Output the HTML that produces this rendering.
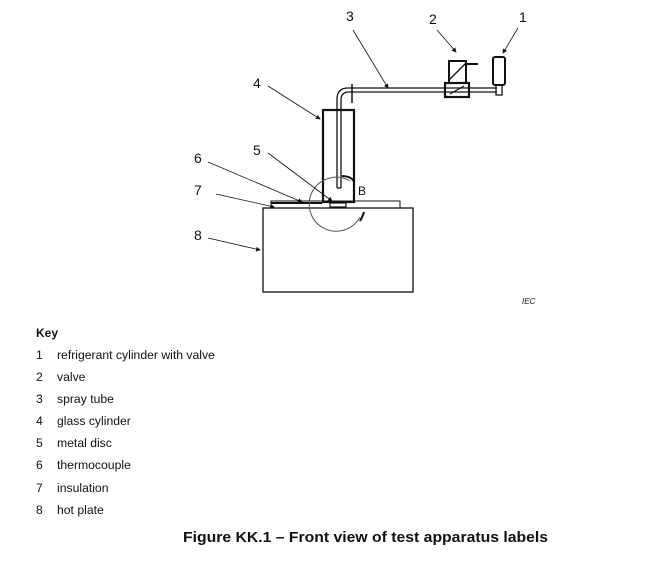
<!DOCTYPE html>
<html><head><meta charset="utf-8"><style>
html,body{margin:0;padding:0;background:#fff;}
svg{display:block;}
text{font-family:"Liberation Sans",Arial,sans-serif;fill:#111;}
</style></head><body>
<svg width="650" height="567" viewBox="0 0 650 567" xmlns="http://www.w3.org/2000/svg">
<defs><marker id="a" markerWidth="6" markerHeight="6" refX="5" refY="3" orient="auto"><path d="M0,0 L6,3 L0,6 z" fill="#111"/></marker></defs>
<g stroke="#111" fill="none">
<rect x="263" y="208" width="150" height="84" stroke-width="1.3"/>
<rect x="271" y="201" width="129" height="7" stroke-width="1"/>
<line x1="271" y1="203" x2="322" y2="203" stroke-width="2"/>
<rect x="330" y="203" width="16" height="4" stroke-width="1.2"/>
<rect x="323" y="110" width="31" height="92" stroke-width="2.2"/>
<path d="M337,188 V99 Q337,88 348,88 H497" stroke-width="1.3"/>
<path d="M341,188 V100 Q341,92 349,92 H497" stroke-width="1.3"/>
<line x1="337" y1="188" x2="341" y2="188" stroke-width="1.3"/>
<line x1="352" y1="84" x2="352" y2="103" stroke-width="1.5"/>
<rect x="445" y="83" width="24" height="14" stroke-width="2.2"/>
<rect x="449" y="61" width="17" height="22" stroke-width="2"/>
<line x1="449" y1="80" x2="466" y2="63" stroke-width="1.3"/>
<line x1="466" y1="64" x2="478" y2="64" stroke-width="2"/>
<line x1="450" y1="94" x2="464" y2="86" stroke-width="1.2"/>
<rect x="493" y="57" width="12" height="28" rx="2" stroke-width="2"/>
<rect x="496" y="85" width="6" height="10" stroke-width="1.3"/>
<path d="M350,181 A27,27 0 1,0 360,217" stroke="#555" stroke-width="1"/>
<path d="M342,176 Q350,176 354,181" stroke-width="2"/>
<path d="M364,212 Q362,218 360,221" stroke-width="2"/>
<g stroke-width="0.8" marker-end="url(#a)">
<line x1="518" y1="28" x2="503" y2="53"/>
<line x1="437" y1="30" x2="456" y2="52"/>
<line x1="353" y1="30" x2="388" y2="88"/>
<line x1="268" y1="86" x2="320" y2="119"/>
<line x1="268" y1="153" x2="332" y2="201"/>
<line x1="208" y1="162" x2="302" y2="202"/>
<line x1="216" y1="194" x2="274" y2="207"/>
<line x1="208" y1="238" x2="260" y2="250"/>
</g>
</g>
<g font-size="14">
<text x="519" y="22">1</text>
<text x="429" y="24">2</text>
<text x="346" y="21">3</text>
<text x="253" y="88">4</text>
<text x="253" y="155">5</text>
<text x="194" y="163">6</text>
<text x="194" y="195">7</text>
<text x="194" y="240">8</text>
</g>
<text x="358" y="195" font-size="12">B</text>
<text x="522" y="304" font-size="8" font-style="italic">IEC</text>
<text x="36" y="337" font-size="12" font-weight="bold">Key</text>
<g font-size="12.2">
<text x="36" y="359">1</text><text x="57" y="359">refrigerant cylinder with valve</text>
<text x="36" y="381">2</text><text x="57" y="381">valve</text>
<text x="36" y="403">3</text><text x="57" y="403">spray tube</text>
<text x="36" y="425">4</text><text x="57" y="425">glass cylinder</text>
<text x="36" y="447">5</text><text x="57" y="447">metal disc</text>
<text x="36" y="469">6</text><text x="57" y="469">thermocouple</text>
<text x="36" y="492">7</text><text x="57" y="492">insulation</text>
<text x="36" y="514">8</text><text x="57" y="514">hot plate</text>
</g>
<text x="183" y="542" font-size="14.5" font-weight="bold" textLength="365" lengthAdjust="spacingAndGlyphs">Figure KK.1 – Front view of test apparatus labels</text>
</svg>
</body></html>
